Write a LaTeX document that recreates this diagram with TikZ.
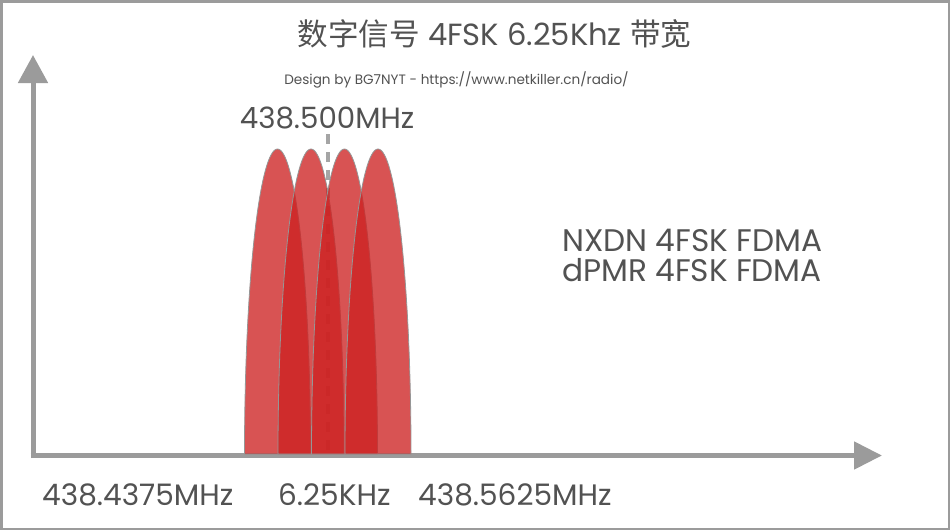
\documentclass[tikz,border=0pt]{standalone}
\usepackage{fontspec}
\setmainfont{Poppins}
\newfontfamily\cjk{Noto Sans CJK SC}
\usetikzlibrary{arrows.meta}
\definecolor{txt}{RGB}{82,82,82}
\definecolor{axisgray}{RGB}{155,155,155}
\definecolor{lobered}{RGB}{205,34,34}
\definecolor{edgegray}{RGB}{150,150,150}
\definecolor{dashgray}{RGB}{165,165,165}
\begin{document}
\begin{tikzpicture}[x=1pt,y=-1pt,
  lbl/.style={text=txt, inner sep=0pt, font=\fontsize{29.6}{34}\selectfont},
  modelbl/.style={lbl, anchor=base west, text depth=0pt, font=\fontsize{31.2}{34}\selectfont},
  axisline/.style={draw=axisgray, line width=5pt},
  lobe/.style={fill=lobered, fill opacity=0.78, draw=edgegray, draw opacity=1, line width=0.8pt},
  frame/.style={draw=axisgray, line width=2.5pt}]
\useasboundingbox (0,0) rectangle (950,530);
\draw[frame] (1.25,1.25) rectangle (948.75,528.75);
% texts
\node[lbl, anchor=base, font=\fontsize{30.6}{35}\selectfont] (title) at (494.5,45) {{\cjk 数字信号} 4FSK 6.25Khz {\cjk 带宽}};
\node[lbl, anchor=base, font=\fontsize{13.6}{16}\selectfont] (credit) at (456.5,84) {Design by BG7NYT - https://www.netkiller.cn/radio/};
\node[lbl, anchor=base, font=\fontsize{29.3}{34}\selectfont] (center) at (327,128) {438.500MHz};
\node[lbl, anchor=base west] (lowf) at (42,505) {438.4375MHz};
\node[lbl, anchor=base west] (bw) at (278,505) {6.25KHz};
\node[lbl, anchor=base west] (highf) at (418,505) {438.5625MHz};
\node[modelbl] (nxdn) at (562,251) {NXDN 4FSK FDMA};
\node[modelbl] (dpmr) at (562,281) {dPMR 4FSK FDMA};
% dashed centre line
\coordinate (dtop) at (328,134);
\coordinate (dbot) at (328,454);
\draw[dashgray, line width=4pt, dash pattern=on 10pt off 8pt] (dtop) -- (dbot);
% axes
\coordinate (oy) at (33,458);
\coordinate (ytip) at (33,55);
\coordinate (ox) at (30.5,455.5);
\coordinate (xtip) at (882,455.5);
\draw[axisline, -{Triangle[length=28pt,width=29pt]}] (oy) -- (ytip);
\draw[axisline, -{Triangle[length=28pt,width=27pt]}] (ox) -- (xtip);
% lobes
\foreach \cx in {277.5,311,344.5,378}{
  \draw[lobe] plot[domain=180:0, samples=90, smooth] ({\cx+33*cos(\x)}, {454-305*sin(\x)}) -- cycle;
}
\end{tikzpicture}
\end{document}
